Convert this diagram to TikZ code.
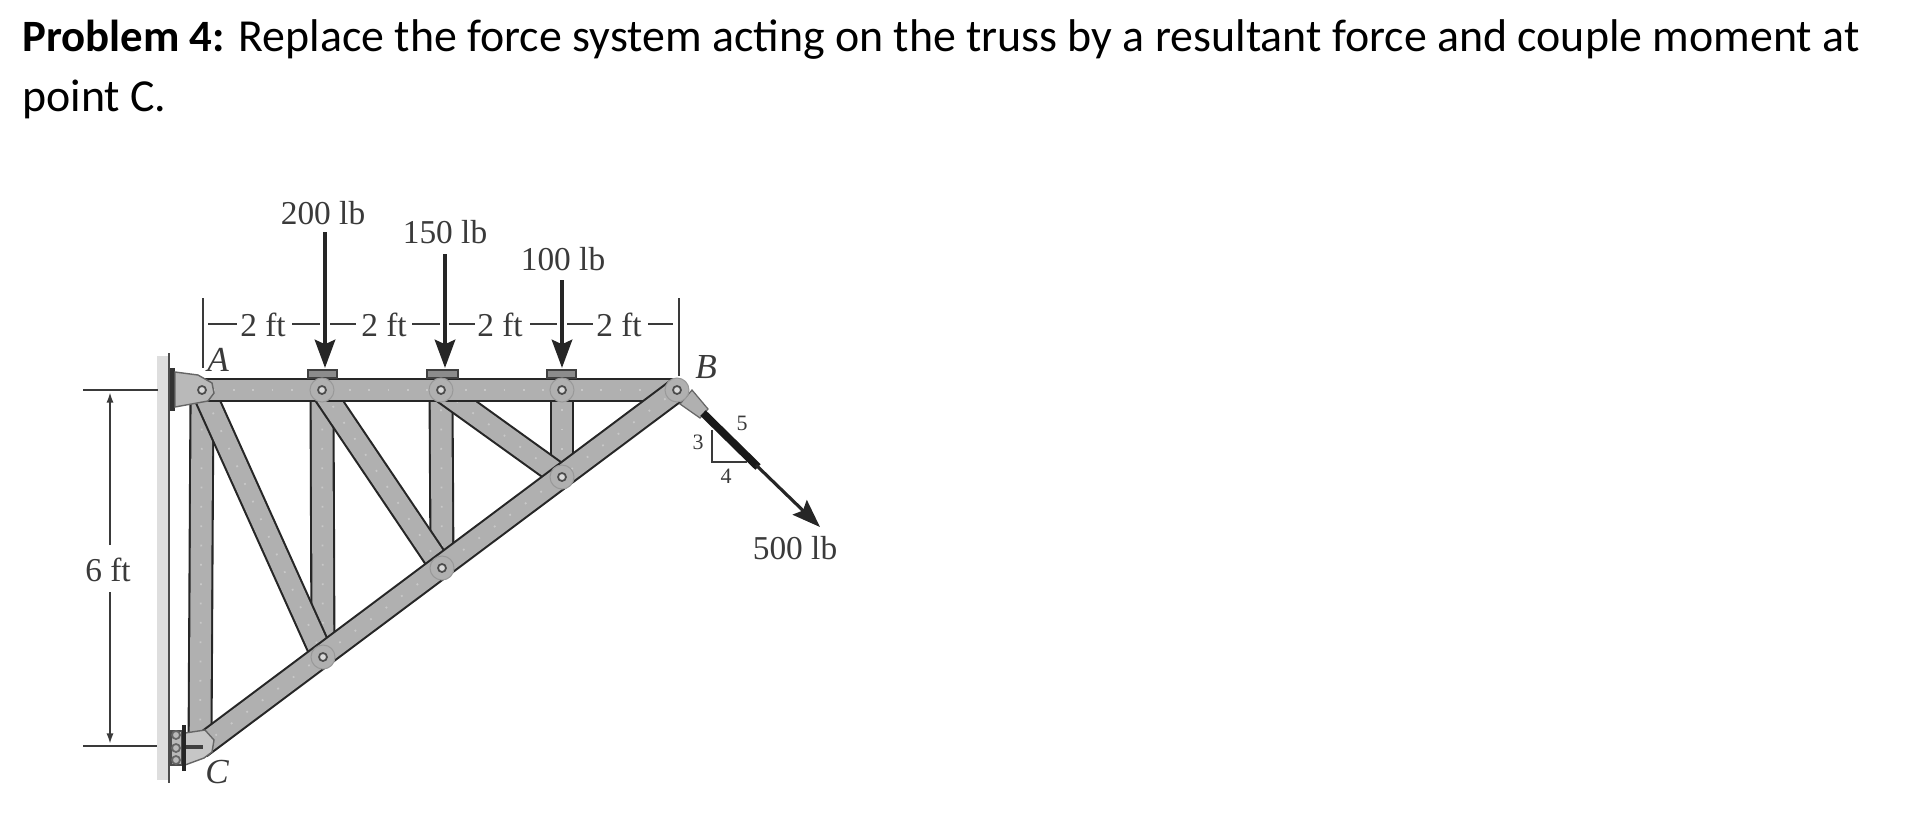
\documentclass[tikz,border=0pt]{standalone}
\usepackage{fontspec}
\setmainfont{Liberation Serif}
\newfontfamily\headfont{Carlito}
\usetikzlibrary{arrows.meta}
\definecolor{membergray}{HTML}{B0B0B0}
\definecolor{dotgray}{HTML}{C8C8C8}
\definecolor{wallgray}{HTML}{DEDEDE}
\definecolor{inkgray}{HTML}{3A3A3A}
\definecolor{labelgray}{HTML}{3A3A3A}
\tikzset{
	member/.style={draw=membergray,line width=11.8pt,
		preaction={draw=black!85,line width=14.2pt},
		postaction={draw=dotgray,line width=1pt,dash pattern=on 1pt off 10pt}},
	dimline/.style={draw=inkgray,line width=1.1pt},
	dimtip/.style={dimline,-{Latex[length=6pt,width=4pt]}},
	force/.style={draw=black!85,line width=2.6pt,-{Stealth[length=16pt,width=11.5pt,inset=2.5pt]}},
	pinring/.style={draw=black!40,fill=membergray,line width=0.6pt},
	pinhole/.style={draw=black!70,fill=white!70!gray,line width=1pt},
	lab/.style={text=labelgray,font=\fontsize{19}{19}\selectfont,inner sep=0pt},
	smalllab/.style={text=labelgray,font=\fontsize{12.5}{12.5}\selectfont,inner sep=0pt},
	pointlab/.style={text=labelgray,font=\fontsize{20}{20}\selectfont\itshape,inner sep=0pt},
	head/.style={anchor=base west,inner sep=0pt,font=\fontsize{26.1}{26.1}\selectfont\headfont}
}
\begin{document}
\begin{tikzpicture}[x=0.02cm,y=-0.02cm]
	\useasboundingbox (0,0) rectangle (1920,816);
	
	\node[head] (title) at (22,51) {{\fontsize{25.5}{25.5}\selectfont\textbf{Problem 4:}} Replace the force system acting on the truss by a resultant force and couple moment at};
	\node[head] (titleb) at (22,111) {point C.};
	
	% joints
	\coordinate (A) at (202,390); \coordinate (C) at (200,747); \coordinate (B) at (677,390);
	\coordinate (T1) at (322,390); \coordinate (T2) at (441,390); \coordinate (T3) at (562,390);
	\coordinate (L1) at (323,657); \coordinate (L2) at (442,568); \coordinate (L3) at (562,477);
	
	% wall
	\fill[wallgray] (157,356) rectangle (168,780);
	\draw[draw=black!70,line width=1.6pt] (169,353) -- (169,783);
	\fill[black!80] (170,368) rectangle (175,411);
	
	% members
	\draw[member] (A) -- (C);
	\draw[member] (T1) -- (L1);
	\draw[member] (T2) -- (L2);
	\draw[member] (T3) -- (L3);
	\draw[member] (205,395) -- (L1);
	\draw[member] (T1) -- (L2);
	\draw[member] (T2) -- (L3);
	\draw[member] (175,390) -- (B);
	\draw[member] (C) -- (B);
	
	% gusset plates
	\filldraw[draw=black!60,fill=white!45!gray,line width=0.8pt] (175,372) -- (198,375) -- (212,383) -- (214,393) -- (208,401) -- (175,407) -- cycle;
	\filldraw[draw=black!60,fill=white!55!gray,line width=0.8pt] (185,733) -- (205,730) -- (214,740) -- (212,752) -- (204,758) -- (185,765) -- cycle;
	\filldraw[draw=black!70,fill=white!45!gray,line width=0.8pt] (171,731) rectangle (182,765);
	\fill[black!85] (182,725) rectangle (186,771);
	\foreach \boltY in {735,748,760}
		\draw[black!60,line width=1pt] (176,\boltY) circle (4);
	\draw[black!75,line width=1.8pt] (186,747) -- (203,747);
	
	% 500 lb link
	\filldraw[draw=black!60,fill=membergray,line width=0.7pt] (680,404) -- (700,418) -- (708,409) -- (692,390) -- cycle;
	\draw[black!90,line width=4.4pt] (703,413) -- (758,467);
	\draw[force,line width=1.8pt] (756,465) -- (820,527);
	
	% pads and pins
	\filldraw[draw=black!75,fill=black!45,line width=0.8pt] (308,370) rectangle (337,378);
	\filldraw[draw=black!75,fill=black!45,line width=0.8pt] (427,370) rectangle (458,378);
	\filldraw[draw=black!75,fill=black!45,line width=0.8pt] (547,370) rectangle (576,378);
	\foreach \pin in {T1,T2,T3,L1,L2,L3,B}
		\draw[pinring] (\pin) circle (12);
	\foreach \pin in {A,T1,T2,T3,L1,L2,L3,B}
		\draw[pinhole] (\pin) circle (4);
	
	% slope triangle
	\draw[dimline] (712,430) -- (712,462) -- (747,462);
	\node[smalllab] (three) at (698,442) {3};
	\node[smalllab] (four) at (726,476) {4};
	\node[smalllab] (five) at (742,423) {5};
	
	% loads
	\coordinate (F1) at (325,232); \coordinate (F1e) at (325,368);
	\coordinate (F2) at (445,254); \coordinate (F2e) at (445,368);
	\coordinate (F3) at (562,280); \coordinate (F3e) at (562,368);
	\draw[force] (F1) -- (F1e);
	\draw[force] (F2) -- (F2e);
	\draw[force] (F3) -- (F3e);
	\node[lab] (load200) at (323,213) {200 lb};
	\node[lab] (load150) at (445,232) {150 lb};
	\node[lab] (load100) at (563,259) {100 lb};
	\node[lab] (load500) at (795,548) {500 lb};
	
	% top dimension
	\draw[dimline] (203,298) -- (203,368);
	\draw[dimline] (679,298) -- (679,376);
	\node[lab] (d1) at (263,325) {2 ft};
	\node[lab] (d2) at (384,325) {2 ft};
	\node[lab] (d3) at (500,325) {2 ft};
	\node[lab] (d4) at (619,325) {2 ft};
	\draw[dimline,line width=1.6pt] (208,324) -- (237,324);
	\draw[dimline,line width=1.6pt] (292,324) -- (320,324);
	\draw[dimline,line width=1.6pt] (330,324) -- (356,324);
	\draw[dimline,line width=1.6pt] (412,324) -- (440,324);
	\draw[dimline,line width=1.6pt] (449,324) -- (475,324);
	\draw[dimline,line width=1.6pt] (530,324) -- (557,324);
	\draw[dimline,line width=1.6pt] (567,324) -- (593,324);
	\draw[dimline,line width=1.6pt] (648,324) -- (673,324);
	
	% left dimension
	\draw[dimline] (83,390) -- (158,390);
	\draw[dimline] (83,746) -- (157,746);
	\node[lab] (d6) at (108,570) {6 ft};
	\draw[dimtip] (110,545) -- (110,392);
	\draw[dimtip] (110,592) -- (110,744);
	
	\node[pointlab] (labA) at (218,360) {A};
	\node[pointlab] (labB) at (706,367) {B};
	\node[pointlab] (labC) at (217,772) {C};
	
\end{tikzpicture}
\end{document}
